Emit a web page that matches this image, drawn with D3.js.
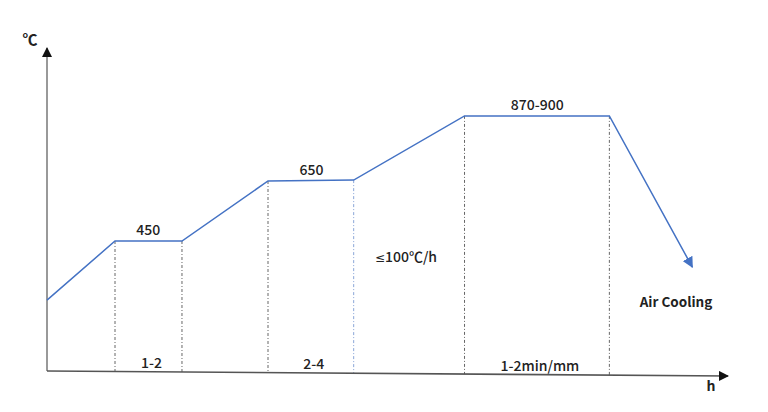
<!DOCTYPE html>
<html>
<head>
<meta charset="utf-8">
<script src="https://cdn.jsdelivr.net/npm/d3@7"></script>
<style>
  body { margin: 0; background: #fff; }
  svg text { font-family: "Noto Sans CJK SC", "Noto Sans", sans-serif; fill: #222; }
</style>
</head>
<body>
<div id="chart"></div>
<script>
// process curve: time in notional units, temperature in degC
var times = [0, 10, 19.85, 32.5, 45.1, 61.4, 82.7, 94.9];
var temps = [253, 450, 450, 650, 653, 867, 867, 363];
// which breakpoints get a dashed guide down to the axis
var guides = [1, 2, 3, 4, 5, 6];
var guideColors = ["#666", "#666", "#666", "#8aa6d8", "#666", "#666"];

var tempLabels = [
    {text: "450", t: 14.9, T: 450},
    {text: "650", t: 38.9, T: 650},
    {text: "870-900", t: 72.1, T: 867}
];
var spanLabels = ["1-2", "2-4", "1-2min/mm"];
var spanPairs = [[1, 2], [3, 4], [5, 6]];

var W = 768, H = 412;
var x = d3.scaleLinear().domain([0, 100]).range([47, 727]);
var y = d3.scaleLinear().domain([0, 1100]).range([376, 46]);

// x axis in the source is slightly tilted
var ax0 = {x: 47, y: 371}, ax1 = {x: 728, y: 376};
function axisY(px) {
    return ax0.y + (ax1.y - ax0.y) * (px - ax0.x) / (ax1.x - ax0.x);
}

var svg = d3.select("#chart").append("svg").attr("width", W).attr("height", H);
svg.append("rect").attr("width", W).attr("height", H).attr("fill", "#fff");

var defs = svg.append("defs");
defs.append("marker").attr("id", "axArrow")
    .attr("viewBox", "0 0 10 10").attr("refX", 9).attr("refY", 5)
    .attr("markerWidth", 10).attr("markerHeight", 10).attr("markerUnits", "userSpaceOnUse")
    .attr("orient", "auto")
    .append("path").attr("d", "M0,0 L10,5 L0,10 Z").attr("fill", "#111");
defs.append("marker").attr("id", "blueArrow")
    .attr("viewBox", "0 0 10 10").attr("refX", 9).attr("refY", 5)
    .attr("markerWidth", 11).attr("markerHeight", 11).attr("markerUnits", "userSpaceOnUse")
    .attr("orient", "auto")
    .append("path").attr("d", "M0,0 L10,5 L0,10 Z").attr("fill", "#4472c4");

// dashed guides
guides.forEach(function (i, k) {
    var px = x(times[i]);
    svg.append("line")
        .attr("x1", px).attr("x2", px)
        .attr("y1", y(temps[i])).attr("y2", axisY(px))
        .attr("stroke", guideColors[k]).attr("stroke-width", 1)
        .attr("stroke-dasharray", "3,2,1,2");
});

// axes
svg.append("line")
    .attr("x1", ax0.x).attr("y1", ax0.y).attr("x2", ax0.x).attr("y2", 48)
    .attr("stroke", "#777").attr("stroke-width", 1.5)
    .attr("marker-end", "url(#axArrow)");
svg.append("line")
    .attr("x1", ax0.x).attr("y1", ax0.y).attr("x2", ax1.x).attr("y2", ax1.y)
    .attr("stroke", "#555").attr("stroke-width", 1.6)
    .attr("marker-end", "url(#axArrow)");

// process curve
var pts = times.map(function (t, i) { return [t, temps[i]]; });
var line = d3.line().x(function (d) { return x(d[0]); }).y(function (d) { return y(d[1]); });
svg.append("path").datum(pts)
    .attr("d", line)
    .attr("fill", "none").attr("stroke", "#4472c4").attr("stroke-width", 1.5)
    .attr("marker-end", "url(#blueArrow)");

// temperature labels
svg.selectAll("text.temp").data(tempLabels).enter().append("text")
    .attr("class", "temp")
    .attr("x", function (d) { return x(d.t); })
    .attr("y", function (d) { return y(d.T) - 6; })
    .attr("text-anchor", "middle").attr("font-size", 14).attr("font-weight", 500)
    .text(function (d) { return d.text; });

// hold-time labels
spanLabels.forEach(function (s, k) {
    var p = spanPairs[k];
    var mx = (x(times[p[0]]) + x(times[p[1]])) / 2;
    svg.append("text")
        .attr("x", mx + 3).attr("y", axisY(mx) - 4)
        .attr("text-anchor", "middle").attr("font-size", 14).attr("font-weight", 500)
        .text(s);
});

var rate = svg.append("text").attr("x", 406).attr("y", 262)
    .attr("text-anchor", "middle").attr("font-size", 14).attr("font-weight", 500);
rate.append("tspan").style("font-family", "'DejaVu Sans', sans-serif").attr("font-size", 12).text("≤");
rate.append("tspan").text("100℃/h");

svg.append("text").attr("x", 676).attr("y", 307)
    .attr("text-anchor", "middle").attr("font-size", 13.5).attr("font-weight", 600)
    .text("Air Cooling");
svg.append("text").attr("x", 30).attr("y", 45)
    .attr("text-anchor", "middle").attr("font-size", 15).attr("font-weight", 700)
    .text("℃");
svg.append("text").attr("x", 711).attr("y", 391)
    .attr("text-anchor", "middle").attr("font-size", 14).attr("font-weight", 600)
    .text("h");
</script>
</body>
</html>
